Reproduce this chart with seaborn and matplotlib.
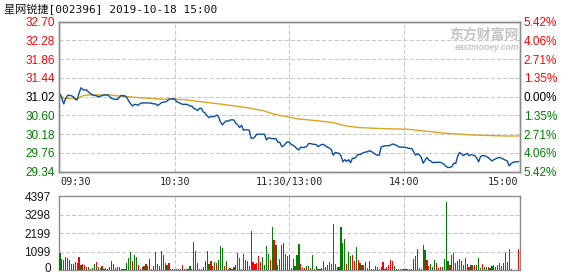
import numpy as np
import pandas as pd
import matplotlib
matplotlib.use("Agg")
import matplotlib.pyplot as plt
import matplotlib.transforms as mtransforms
import seaborn as sns

# ---------------- data ----------------
title = "星网锐捷[002396] 2019-10-18 15:00"
time_ticks = [0, 60, 120, 180, 240]
time_labels = ["09:30", "10:30", "11:30/13:00", "14:00", "15:00"]
prev_close = 31.02
price_ticks = [32.70, 32.28, 31.86, 31.44, 31.02, 30.60, 30.18, 29.76, 29.34]
pct_labels = ["5.42%", "4.06%", "2.71%", "1.35%", "0.00%", "1.35%", "2.71%", "4.06%", "5.42%"]
vol_ticks = [0, 1099, 2199, 3298, 4397]

price = [
    31.08, 30.98, 30.86, 30.98, 31.05, 31.05, 31.04, 31.02, 30.96, 30.95,
    31.10, 31.22, 31.18, 31.17, 31.17, 31.12, 31.09, 31.06, 31.05, 31.04,
    31.02, 31.03, 31.04, 31.06, 31.06, 31.06, 31.02, 30.98, 30.97, 30.96,
    30.96, 31.00, 31.05, 31.04, 31.04, 31.00, 30.92, 30.86, 30.81, 30.85,
    30.84, 30.83, 30.87, 30.88, 30.88, 30.88, 30.88, 30.88, 30.87, 30.86,
    30.86, 30.82, 30.85, 30.88, 30.90, 30.90, 30.92, 30.96, 30.97, 30.97,
    30.97, 30.91, 30.89, 30.87, 30.85, 30.85, 30.85, 30.84, 30.81, 30.81,
    30.76, 30.74, 30.71, 30.76, 30.76, 30.68, 30.65, 30.59, 30.55, 30.58,
    30.57, 30.58, 30.61, 30.57, 30.45, 30.39, 30.44, 30.48, 30.47, 30.50,
    30.50, 30.50, 30.42, 30.39, 30.33, 30.38, 30.27, 30.28, 30.28, 30.27,
    30.09, 30.09, 30.12, 30.18, 30.18, 30.18, 30.18, 30.18, 30.05, 30.10,
    30.09, 30.08, 30.08, 30.08, 30.00, 30.00, 29.90, 29.92, 29.97, 30.01,
    30.00, 29.95, 29.93, 29.90, 29.85, 29.83, 29.89, 29.88, 29.89, 29.90,
    29.97, 29.97, 29.96, 29.95, 29.95, 29.90, 29.93, 29.95, 29.95, 29.91,
    29.89, 29.87, 29.83, 29.71, 29.77, 29.76, 29.75, 29.70, 29.56, 29.61,
    29.57, 29.61, 29.54, 29.64, 29.64, 29.68, 29.73, 29.72, 29.75, 29.77,
    29.78, 29.79, 29.81, 29.79, 29.76, 29.73, 29.71, 29.71, 29.89, 29.91,
    29.92, 29.92, 29.92, 29.94, 29.96, 29.95, 29.93, 29.90, 29.89, 29.89,
    29.89, 29.88, 29.87, 29.86, 29.86, 29.79, 29.71, 29.74, 29.72, 29.66,
    29.53, 29.60, 29.66, 29.60, 29.58, 29.54, 29.55, 29.55, 29.55, 29.55,
    29.53, 29.50, 29.46, 29.43, 29.44, 29.45, 29.53, 29.52, 29.68, 29.77,
    29.74, 29.70, 29.73, 29.75, 29.70, 29.72, 29.71, 29.70, 29.65, 29.56,
    29.68, 29.70, 29.70, 29.68, 29.66, 29.62, 29.58, 29.61, 29.63, 29.65,
    29.66, 29.64, 29.62, 29.60, 29.58, 29.47, 29.52, 29.55, 29.56, 29.56, 29.57,
]

avg_minutes = [0, 2, 9, 12, 15, 26, 30, 41, 55, 58, 66, 75, 85, 97, 106,
               112, 119, 125, 135, 143, 149, 156, 166, 173, 182, 193, 202,
               217, 233, 240]
avg_price = [31.08, 30.98, 30.98, 31.04, 31.06, 31.06, 31.04, 31.00, 30.96,
             30.97, 30.95, 30.90, 30.85, 30.78, 30.71, 30.63, 30.57, 30.52,
             30.48, 30.44, 30.37, 30.33, 30.31, 30.30, 30.29, 30.24, 30.20,
             30.16, 30.14, 30.14]

volume = [
    1005, 650, 590, 770, 730, 590, 355, 355, 490, 410,
    770, 295, 375, 295, 177, 177, 60, 138, 355, 470,
    200, 120, 236, 100, 158, 100, 216, 550, 375, 158,
    200, 216, 60, 60, 60, 450, 730, 1060, 550, 885,
    770, 295, 100, 177, 236, 355, 236, 650, 100, 236,
    1060, 355, 236, 1120, 885, 410, 295, 410, 60, 60,
    60, 60, 60, 60, 295, 60, 60, 60, 236, 60,
    1650, 1120, 410, 60, 60, 177, 530, 1120, 355, 530,
    236, 470, 410, 590, 1420, 1300, 236, 530, 60, 120,
    60, 177, 295, 1005, 710, 60, 945, 590, 530, 236,
    2300, 470, 355, 410, 830, 470, 770, 295, 1420, 945,
    590, 2540, 1770, 1480, 295, 650, 1480, 1600, 945, 830, 885,
    120, 650, 236, 885, 1540, 355, 120, 120, 236, 236,
    120, 885, 60, 236, 60, 60, 120, 530, 177, 295,
    470, 355, 2720, 355, 177, 177, 2540, 1600, 1830, 355,
    1060, 830, 885, 530, 1360, 590, 410, 295, 295, 470,
    120, 530, 60, 60, 236, 177, 60, 177, 470, 60,
    177, 295, 590, 530, 236, 60, 60, 60, 60, 60,
    60, 60, 60, 60, 650, 830, 1240, 120, 60, 1480,
    1180, 590, 236, 355, 177, 590, 410, 120, 177, 177,
    650, 4020, 530, 295, 885, 1005, 410, 530, 650, 530,
    295, 710, 355, 177, 295, 295, 295, 295, 710, 120,
    355, 177, 177, 177, 120, 236, 295, 177, 295, 410,
    236, 410, 1005, 470, 1240, 60, 0, 0, 0, 1240,
]
vol_dir = list(
    "GGRRRGGGRR" "RGRRGRGGGR" "GGRGRRGGRR" "GRGGGGGGRG" "GRRRGRGGRR"
    "GGRGRRGRGG" "GGRRRGGGGG" "GGGRRGGGGR" "RGRGGGRGRR" "RGGGGRGRRR"
    "GRRRRRGGGG" "RGRGGRGRRGR"
    "GRGGGRRRGG" "RGRGGRGGGR" "GRGRRGGGGR" "GGRRGRGRRR" "RGRRGGRRRG"
    "RRRRGGGGRR" "RRRRGRGRGG" "GRRGGGRRRG" "GGGRRRRGRR" "GGRRGRRGGG"
    "RGGRGGGRRR" "GGGGGGGGGR"
)

# ---------------- style ----------------
sns.set_style("white")
plt.rcParams["font.family"] = ["Liberation Sans", "Noto Sans CJK SC", "DejaVu Sans"]

RED = "#FF0000"
GREEN = "#008000"
BLUE = "#0A4FA0"
GOLD = "#DAA520"
GRID = "#C8C8C8"
SPINE = "#8C8C8C"

fig = plt.figure(figsize=(5.78, 2.76), dpi=100)
ax = fig.add_axes([59 / 578, 1 - 171.7 / 276, 460.7 / 578, 150 / 276])
axv = fig.add_axes([59 / 578, 1 - 270.3 / 276, 460.7 / 578, 74.3 / 276])

minutes = np.arange(len(price))
df = pd.DataFrame({"minute": minutes, "price": price})
dfa = pd.DataFrame({"minute": avg_minutes, "avg": avg_price})

grid_kw = dict(color=GRID, lw=0.75, ls=(0, (4, 2)), zorder=0)

# price panel
for t in time_ticks[1:-1]:
    ax.axvline(t, **grid_kw)
for p in price_ticks[1:-1]:
    ax.axhline(p, **grid_kw)
sns.lineplot(data=dfa, x="minute", y="avg", ax=ax, color=GOLD, lw=1.0, zorder=3)
sns.lineplot(data=df, x="minute", y="price", ax=ax, color=BLUE, lw=1.0, zorder=4)
ax.set_xlim(-0.5, 240.5)
ax.set_ylim(price_ticks[-1], price_ticks[0])
ax.set_xlabel("")
ax.set_ylabel("")
ax.set_yticks(price_ticks)
ax.set_yticklabels([f"{p:.2f}" for p in price_ticks], fontsize=8.5)
for lab, p in zip(ax.get_yticklabels(), price_ticks):
    lab.set_color(RED if p > prev_close + 1e-9 else (GREEN if p < prev_close - 1e-9 else "#000000"))
ax.set_xticks(time_ticks)
ax.set_xticklabels(time_labels, fontsize=7.3, family=["DejaVu Sans Mono"])
xl = ax.get_xticklabels()
xl[0].set_horizontalalignment("left")
xl[-1].set_horizontalalignment("right")
ax.tick_params(axis="both", length=0, pad=3)
ax.tick_params(axis="x", pad=4)

ax2 = ax.twinx()
ax2.set_ylim(price_ticks[-1], price_ticks[0])
ax2.set_yticks(price_ticks)
ax2.set_yticklabels(pct_labels, fontsize=8.5)
for lab, p in zip(ax2.get_yticklabels(), price_ticks):
    lab.set_color(RED if p > prev_close + 1e-9 else (GREEN if p < prev_close - 1e-9 else "#000000"))
ax2.tick_params(axis="y", length=0, pad=3)

for a in (ax, ax2):
    for s in a.spines.values():
        s.set_color(SPINE)
        s.set_linewidth(1.0)

# watermark
ax.text(0.998, 0.915, "东方财富网", transform=ax.transAxes, ha="right", va="center",
        fontsize=10, color="#C4C4C4", fontweight="bold", family=["Noto Sans CJK SC"], zorder=1)
ax.text(0.998, 0.825, "eastmoney.com", transform=ax.transAxes, ha="right", va="center",
        fontsize=6.2, color="#C4C4C4", fontweight="bold", style="italic", zorder=1)

# volume panel
for t in time_ticks[1:-1]:
    axv.axvline(t, **grid_kw)
for v in vol_ticks[1:-1]:
    axv.axhline(v, **grid_kw)
vcolors = [RED if d == "R" else GREEN for d in vol_dir]
axv.bar(np.arange(len(volume)), volume, width=0.62, color=vcolors, linewidth=0,
        antialiased=False, zorder=3)
axv.set_xlim(-0.5, 240.5)
axv.set_ylim(0, vol_ticks[-1])
axv.set_xticks([])
axv.set_yticks(vol_ticks)
axv.set_yticklabels([str(v) for v in vol_ticks], fontsize=8.5, color="#1a1a1a")
axv.tick_params(axis="y", length=0, pad=6)
zero_lab = axv.get_yticklabels()[0]
zero_lab.set_transform(zero_lab.get_transform() +
                       mtransforms.ScaledTranslation(0, 2.2 / 72, fig.dpi_scale_trans))
for s in axv.spines.values():
    s.set_color(SPINE)
    s.set_linewidth(1.0)

# title
fig.text(4 / 578, 1 - 10 / 276, title, ha="left", va="center", fontsize=8,
         color="#111111", family=["DejaVu Sans Mono", "Noto Sans CJK SC"])

fig.savefig("out.png", dpi=100)
